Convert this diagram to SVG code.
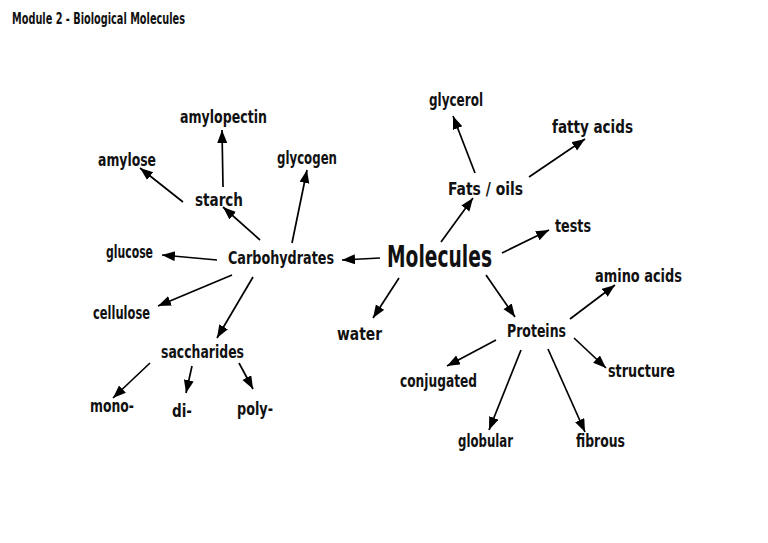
<svg xmlns="http://www.w3.org/2000/svg" width="768" height="543" viewBox="0 0 768 543">
<defs>
<marker id="ah" markerUnits="userSpaceOnUse" markerWidth="14" markerHeight="12" refX="13" refY="5" orient="auto">
<path d="M0,0 L13,5 L0,10 Z" fill="#000"/>
</marker>
<style>
text{font-family:"DejaVu Sans Condensed","DejaVu Sans",sans-serif;font-weight:bold;fill:#111;font-size:18px}
.big{font-size:31px}
.title{font-size:15px}
#connectors line{stroke:#000;stroke-width:1.7;marker-end:url(#ah)}
</style>
</defs>
<rect width="768" height="543" fill="#fff"/>
<text class="title" x="12" y="24" textLength="173" lengthAdjust="spacingAndGlyphs">Module 2 - Biological Molecules</text>
<g id="connectors">
<line x1="380" y1="258" x2="342" y2="260"/>
<line x1="441" y1="242" x2="473" y2="198"/>
<line x1="502" y1="253" x2="549" y2="230"/>
<line x1="399" y1="278" x2="373" y2="318"/>
<line x1="486" y1="275" x2="515" y2="317"/>
<line x1="475" y1="173" x2="453" y2="116"/>
<line x1="529" y1="177" x2="585" y2="139"/>
<line x1="223" y1="187" x2="222" y2="130"/>
<line x1="183" y1="202" x2="140" y2="168"/>
<line x1="260" y1="240" x2="223" y2="207"/>
<line x1="292" y1="243" x2="307" y2="170"/>
<line x1="217" y1="260" x2="162" y2="255"/>
<line x1="232" y1="275" x2="158" y2="306"/>
<line x1="253" y1="277" x2="217" y2="338"/>
<line x1="150" y1="363" x2="113" y2="398"/>
<line x1="192" y1="366" x2="186" y2="393"/>
<line x1="239" y1="363" x2="253" y2="389"/>
<line x1="570" y1="319" x2="615" y2="285"/>
<line x1="574" y1="338" x2="606" y2="368"/>
<line x1="496" y1="340" x2="447" y2="366"/>
<line x1="521" y1="350" x2="489" y2="430"/>
<line x1="548" y1="349" x2="585" y2="432"/>
</g>
<g id="molecules"><text class="big" x="387" y="267" textLength="105" lengthAdjust="spacingAndGlyphs">Molecules</text></g>
<g id="carbohydrates"><text x="228" y="264" textLength="106" lengthAdjust="spacingAndGlyphs">Carbohydrates</text></g>
<g id="starch"><text x="195" y="206" textLength="48" lengthAdjust="spacingAndGlyphs">starch</text></g>
<g id="amylopectin"><text x="180" y="123" textLength="87" lengthAdjust="spacingAndGlyphs">amylopectin</text></g>
<g id="amylose"><text x="98" y="166" textLength="58" lengthAdjust="spacingAndGlyphs">amylose</text></g>
<g id="glycogen"><text x="277" y="164" textLength="60" lengthAdjust="spacingAndGlyphs">glycogen</text></g>
<g id="glucose"><text x="106" y="258" textLength="47" lengthAdjust="spacingAndGlyphs">glucose</text></g>
<g id="cellulose"><text x="93" y="319" textLength="57" lengthAdjust="spacingAndGlyphs">cellulose</text></g>
<g id="saccharides"><text x="161" y="358" textLength="83" lengthAdjust="spacingAndGlyphs">saccharides</text></g>
<g id="mono"><text x="90" y="412" textLength="44" lengthAdjust="spacingAndGlyphs">mono-</text></g>
<g id="di"><text x="172" y="417" textLength="20" lengthAdjust="spacingAndGlyphs">di-</text></g>
<g id="poly"><text x="237" y="415" textLength="36" lengthAdjust="spacingAndGlyphs">poly-</text></g>
<g id="fats"><text x="448" y="195" textLength="75" lengthAdjust="spacingAndGlyphs">Fats / oils</text></g>
<g id="glycerol"><text x="429" y="106" textLength="54" lengthAdjust="spacingAndGlyphs">glycerol</text></g>
<g id="fatty-acids"><text x="552" y="133" textLength="81" lengthAdjust="spacingAndGlyphs">fatty acids</text></g>
<g id="tests"><text x="555" y="232" textLength="36" lengthAdjust="spacingAndGlyphs">tests</text></g>
<g id="water"><text x="337" y="340" textLength="45" lengthAdjust="spacingAndGlyphs">water</text></g>
<g id="proteins"><text x="507" y="337" textLength="59" lengthAdjust="spacingAndGlyphs">Proteins</text></g>
<g id="amino-acids"><text x="595" y="282" textLength="87" lengthAdjust="spacingAndGlyphs">amino acids</text></g>
<g id="structure"><text x="608" y="377" textLength="67" lengthAdjust="spacingAndGlyphs">structure</text></g>
<g id="conjugated"><text x="400" y="387" textLength="77" lengthAdjust="spacingAndGlyphs">conjugated</text></g>
<g id="globular"><text x="458" y="447" textLength="55" lengthAdjust="spacingAndGlyphs">globular</text></g>
<g id="fibrous"><text x="576" y="447" textLength="49" lengthAdjust="spacingAndGlyphs">fibrous</text></g>
</svg>
